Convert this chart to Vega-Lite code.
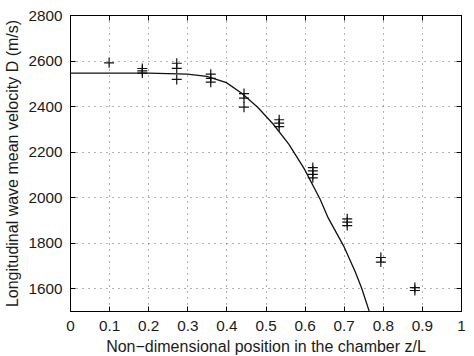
{
  "$schema": "https://vega.github.io/schema/vega-lite/v6.json",
  "width": 391,
  "height": 296,
  "autosize": {"type": "none"},
  "padding": {"left": 70, "top": 15, "right": 13, "bottom": 45},
  "background": "white",
  "config": {
    "font": "Liberation Sans",
    "view": {"stroke": "black", "strokeWidth": 1},
    "axis": {
      "labelFont": "Liberation Sans",
      "labelFontSize": 15.3,
      "labelColor": "#1a1a1a",
      "titleFont": "Liberation Sans",
      "titleFontSize": 16,
      "titleFontWeight": "normal",
      "titleColor": "#1a1a1a",
      "domainColor": "black",
      "tickColor": "black",
      "gridColor": "#666",
      "gridDash": [1, 5],
      "gridWidth": 1
    }
  },
  "datasets": {
    "model": [
      {"z": 0, "D": 2545},
      {"z": 0.2, "D": 2545},
      {"z": 0.3, "D": 2540},
      {"z": 0.35, "D": 2530},
      {"z": 0.4, "D": 2503},
      {"z": 0.44, "D": 2455},
      {"z": 0.48, "D": 2395},
      {"z": 0.52, "D": 2320},
      {"z": 0.56, "D": 2232},
      {"z": 0.6, "D": 2122},
      {"z": 0.64, "D": 1990},
      {"z": 0.66, "D": 1910},
      {"z": 0.7, "D": 1785},
      {"z": 0.73, "D": 1670},
      {"z": 0.746, "D": 1600},
      {"z": 0.765, "D": 1500}
    ],
    "measured": [
      {"z": 0.1, "D": 2590},
      {"z": 0.185, "D": 2565},
      {"z": 0.185, "D": 2555},
      {"z": 0.185, "D": 2545},
      {"z": 0.273, "D": 2588},
      {"z": 0.273, "D": 2566},
      {"z": 0.273, "D": 2517},
      {"z": 0.36, "D": 2540},
      {"z": 0.36, "D": 2522},
      {"z": 0.36, "D": 2505},
      {"z": 0.445, "D": 2455},
      {"z": 0.445, "D": 2435},
      {"z": 0.445, "D": 2395},
      {"z": 0.535, "D": 2340},
      {"z": 0.535, "D": 2325},
      {"z": 0.535, "D": 2310},
      {"z": 0.621, "D": 2130},
      {"z": 0.621, "D": 2115},
      {"z": 0.621, "D": 2100},
      {"z": 0.621, "D": 2085},
      {"z": 0.709, "D": 1905},
      {"z": 0.709, "D": 1890},
      {"z": 0.709, "D": 1875},
      {"z": 0.795, "D": 1735},
      {"z": 0.795, "D": 1715},
      {"z": 0.882, "D": 1603},
      {"z": 0.882, "D": 1590}
    ]
  },
  "layer": [
    {
      "data": {"name": "model"},
      "mark": {"type": "line", "color": "#111", "strokeWidth": 1.3, "clip": true},
      "encoding": {
        "x": {
          "field": "z", "type": "quantitative",
          "scale": {"domain": [0, 1], "nice": false, "zero": false},
          "axis": {
            "orient": "bottom",
            "title": "Non−dimensional position in the chamber z/L",
            "values": [0, 0.1, 0.2, 0.3, 0.4, 0.5, 0.6, 0.7, 0.8, 0.9, 1],
            "format": ".1~f",
            "grid": true,
            "tickSize": -5,
            "labelPadding": 12,
            "titlePadding": 5,
            "labelFlush": false
          }
        },
        "y": {
          "field": "D", "type": "quantitative",
          "scale": {"domain": [1500, 2800], "nice": false, "zero": false},
          "axis": {
            "orient": "left",
            "title": "Longitudinal wave mean velocity D (m/s)",
            "values": [1600, 1800, 2000, 2200, 2400, 2600, 2800],
            "format": "d",
            "grid": true,
            "tickSize": -5,
            "labelPadding": 13,
            "titlePadding": 7,
            "labelFlush": false
          }
        }
      }
    },
    {
      "data": {"name": "measured"},
      "mark": {"type": "point", "shape": "M-1,0L1,0M0,-1L0,1", "size": 100, "filled": false, "stroke": "#111", "strokeWidth": 1.2, "opacity": 1},
      "encoding": {
        "x": {
          "field": "z", "type": "quantitative",
          "scale": {"domain": [0, 1], "nice": false, "zero": false},
          "axis": {"orient": "top", "title": null, "labels": false, "grid": false, "tickSize": -5,
                   "values": [0, 0.1, 0.2, 0.3, 0.4, 0.5, 0.6, 0.7, 0.8, 0.9, 1]}
        },
        "y": {
          "field": "D", "type": "quantitative",
          "scale": {"domain": [1500, 2800], "nice": false, "zero": false},
          "axis": {"orient": "right", "title": null, "labels": false, "grid": false, "tickSize": -5,
                   "values": [1600, 1800, 2000, 2200, 2400, 2600, 2800]}
        }
      }
    }
  ],
  "resolve": {"axis": {"x": "independent", "y": "independent"}}
}
